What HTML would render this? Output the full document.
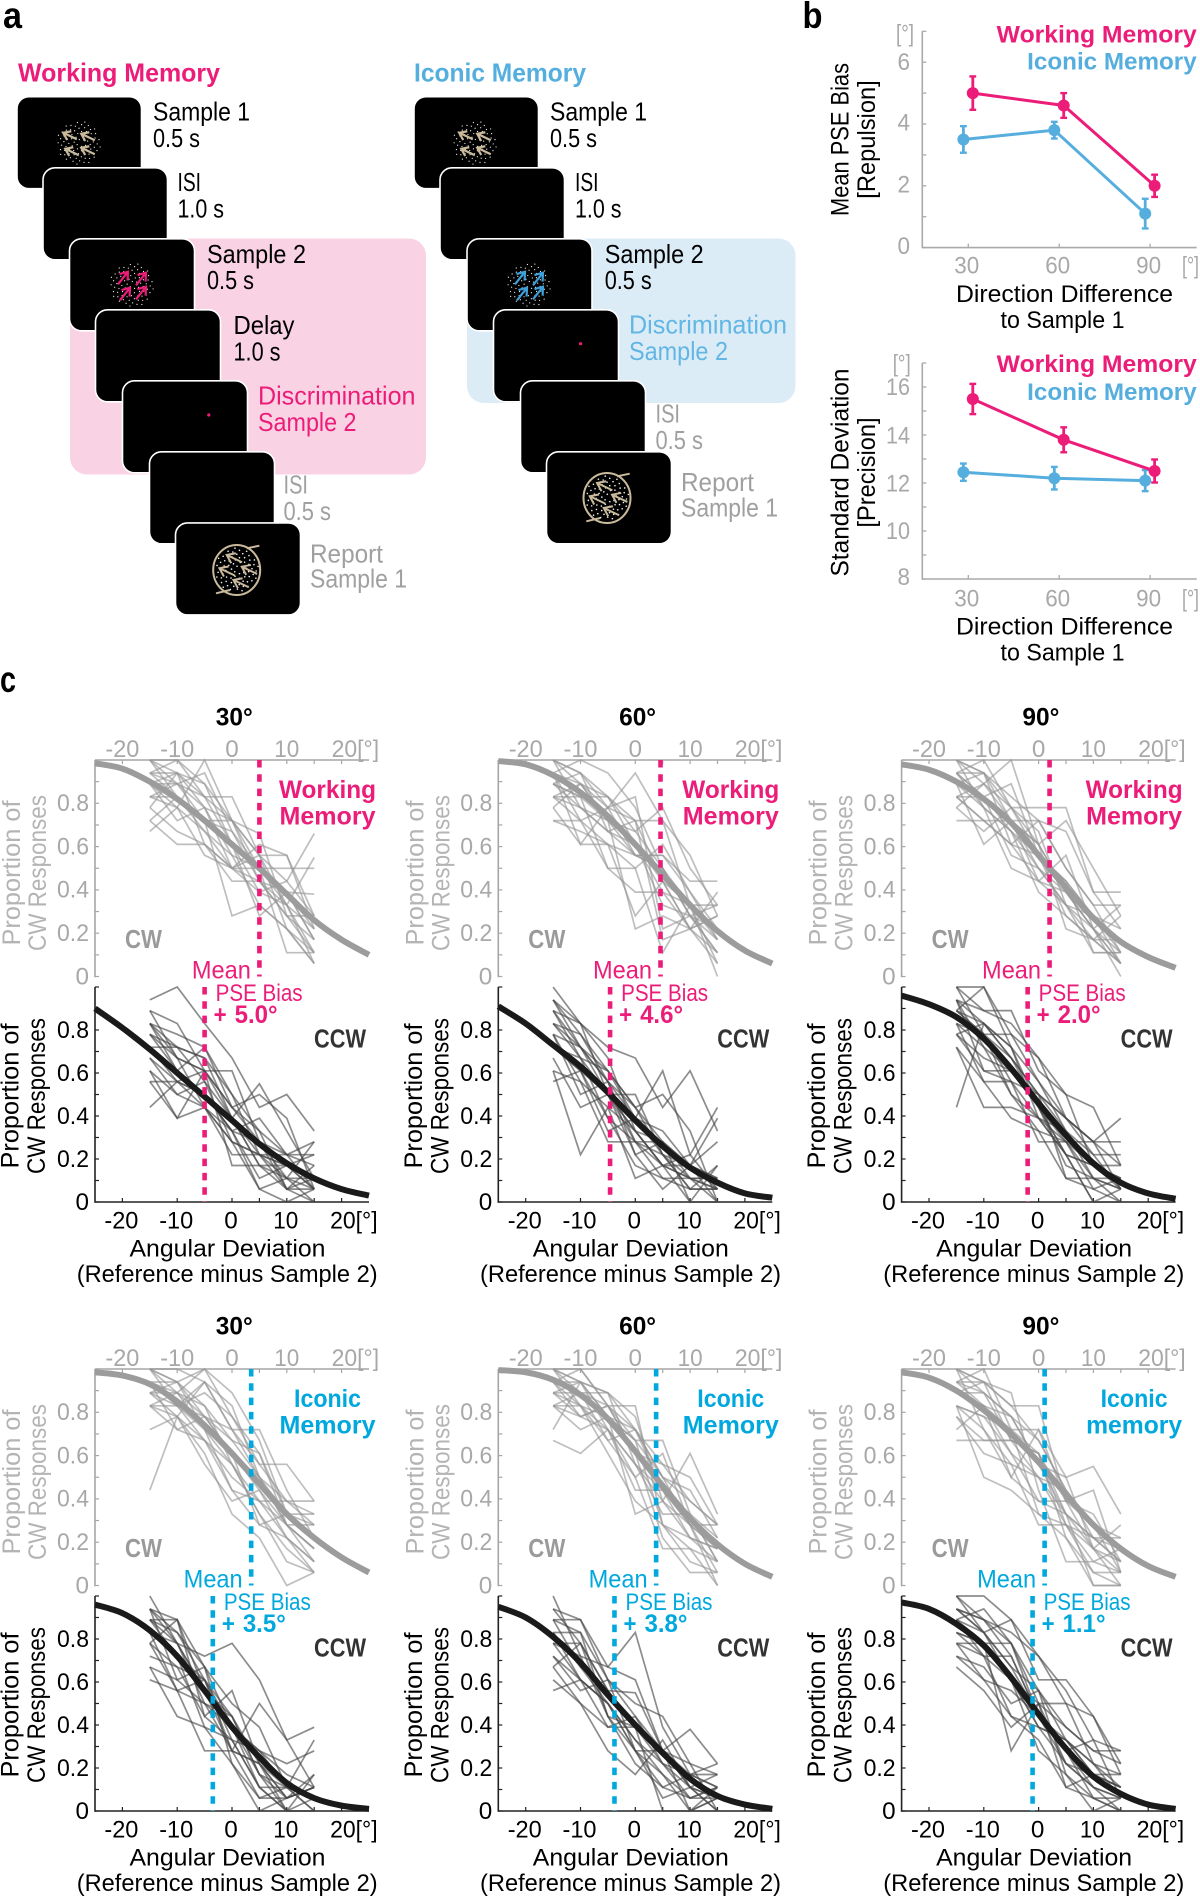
<!DOCTYPE html>
<html lang="en">
<head>
<meta charset="utf-8">
<title>Working and iconic memory direction repulsion figure</title>
<style>
html,body{margin:0;padding:0;background:#fff}
svg{display:block}
text{font-family:"Liberation Sans",sans-serif}
.s{font-size:26px;fill:#000}
.g{font-size:26px;fill:#a0a0a0}
</style>
</head>
<body>
<svg id="fig" xmlns="http://www.w3.org/2000/svg" width="1200" height="1897" viewBox="0 0 1200 1897">
<rect x="0" y="0" width="1200" height="1897" fill="#fff"/>
<g id="panel-a">
<text x="3" y="28" font-size="37" font-weight="bold" fill="#000" textLength="19" lengthAdjust="spacingAndGlyphs">a</text>
<rect x="70" y="238.5" width="356" height="236" rx="17" fill="#f9d3e4"/>
<text x="18" y="81.6" font-size="26" font-weight="bold" fill="#ec1c79" textLength="202" lengthAdjust="spacingAndGlyphs">Working Memory</text>
<g fill="#000" stroke="#fff" stroke-width="1.6">
<rect x="17" y="96.7" width="124.5" height="92" rx="12"/>
<rect x="43" y="167.8" width="124.5" height="92" rx="12"/>
<rect x="69.5" y="238.8" width="125" height="92" rx="12"/>
<rect x="95.5" y="309.8" width="125" height="92" rx="12"/>
<rect x="122.5" y="380.8" width="125" height="92" rx="12"/>
<rect x="149.5" y="451.8" width="125" height="92" rx="12"/>
<rect x="175.5" y="522.9" width="125" height="92" rx="12"/>
</g>
<text class="s" x="153" y="120.3" textLength="97" lengthAdjust="spacingAndGlyphs">Sample 1</text>
<text class="s" x="153" y="147" textLength="47" lengthAdjust="spacingAndGlyphs">0.5 s</text>
<text class="s" x="177.5" y="191" textLength="23.5" lengthAdjust="spacingAndGlyphs">ISI</text>
<text class="s" x="177.5" y="217.6" textLength="46.5" lengthAdjust="spacingAndGlyphs">1.0 s</text>
<text class="s" x="207" y="262.8" textLength="99" lengthAdjust="spacingAndGlyphs">Sample 2</text>
<text class="s" x="207" y="289" textLength="47" lengthAdjust="spacingAndGlyphs">0.5 s</text>
<text class="s" x="233.5" y="334" textLength="61" lengthAdjust="spacingAndGlyphs">Delay</text>
<text class="s" x="233.5" y="360.4" textLength="47" lengthAdjust="spacingAndGlyphs">1.0 s</text>
<text x="258" y="404.4" font-size="26" fill="#ec1c79" textLength="157.5" lengthAdjust="spacingAndGlyphs">Discrimination</text>
<text x="258" y="431" font-size="26" fill="#ec1c79" textLength="98.5" lengthAdjust="spacingAndGlyphs">Sample 2</text>
<text class="g" x="283.5" y="493.4" textLength="24.5" lengthAdjust="spacingAndGlyphs">ISI</text>
<text class="g" x="283.5" y="520" textLength="47.5" lengthAdjust="spacingAndGlyphs">0.5 s</text>
<text class="g" x="310" y="562.3" textLength="73" lengthAdjust="spacingAndGlyphs">Report</text>
<text class="g" x="310" y="587.6" textLength="97" lengthAdjust="spacingAndGlyphs">Sample 1</text>
<circle cx="208.8" cy="415" r="1.6" fill="#ec1c79"/>
<g transform="translate(-3 0)">
<rect x="470" y="238.5" width="328.5" height="164.5" rx="17" fill="#dcecf7"/>
<text x="417" y="81.6" font-size="26" font-weight="bold" fill="#54aede" textLength="172" lengthAdjust="spacingAndGlyphs">Iconic Memory</text>
<g fill="#000" stroke="#fff" stroke-width="1.6">
<rect x="417" y="96.7" width="124.5" height="92" rx="12"/>
<rect x="443" y="167.8" width="124.5" height="92" rx="12"/>
<rect x="470" y="238.8" width="125" height="92" rx="12"/>
<rect x="496.5" y="309.8" width="125" height="92" rx="12"/>
<rect x="523.5" y="380.8" width="125" height="92" rx="12"/>
<rect x="549.5" y="451.8" width="125" height="92" rx="12"/>
</g>
<text class="s" x="553" y="120.3" textLength="97" lengthAdjust="spacingAndGlyphs">Sample 1</text>
<text class="s" x="553" y="147" textLength="47" lengthAdjust="spacingAndGlyphs">0.5 s</text>
<text class="s" x="578" y="191" textLength="23.5" lengthAdjust="spacingAndGlyphs">ISI</text>
<text class="s" x="578" y="217.6" textLength="46.5" lengthAdjust="spacingAndGlyphs">1.0 s</text>
<text class="s" x="607.7" y="262.8" textLength="99" lengthAdjust="spacingAndGlyphs">Sample 2</text>
<text class="s" x="607.7" y="289" textLength="47" lengthAdjust="spacingAndGlyphs">0.5 s</text>
<text x="632" y="333.4" font-size="26" fill="#62b6e4" textLength="158" lengthAdjust="spacingAndGlyphs">Discrimination</text>
<text x="632" y="360" font-size="26" fill="#62b6e4" textLength="99" lengthAdjust="spacingAndGlyphs">Sample 2</text>
<text class="g" x="658.5" y="422.4" textLength="24.5" lengthAdjust="spacingAndGlyphs">ISI</text>
<text class="g" x="658.5" y="449" textLength="47.5" lengthAdjust="spacingAndGlyphs">0.5 s</text>
<text class="g" x="684" y="491" textLength="73" lengthAdjust="spacingAndGlyphs">Report</text>
<text class="g" x="684" y="516.6" textLength="97" lengthAdjust="spacingAndGlyphs">Sample 1</text>
<circle cx="583.6" cy="343.7" r="1.6" fill="#ec1c79"/>
</g>
</g>
<g id="stimuli"></g>
<g id="panel-b">
<text x="802.5" y="28" font-size="37" font-weight="bold" fill="#000" textLength="20" lengthAdjust="spacingAndGlyphs">b</text>
</g>
<g id="panel-c">
<text x="0" y="692" font-size="37" font-weight="bold" fill="#000" textLength="16" lengthAdjust="spacingAndGlyphs">c</text>
</g>
</svg>
<script>
/* ---------- panel b data ---------- */
const bConditions = [30, 60, 90];
const biasWM = [5.0, 4.6, 2.0];
const biasWMErr = [0.54, 0.40, 0.36];
const biasIM = [3.5, 3.8, 1.1];
const biasIMErr = [0.43, 0.27, 0.48];
const sdWM = [15.5, 13.8, 12.5];
const sdWMErr = [0.63, 0.52, 0.48];
const sdIM = [12.45, 12.2, 12.1];
const sdIMErr = [0.36, 0.47, 0.44];
const biasTicks = [0, 2, 4, 6];
const sdTicks = [8, 10, 12, 14, 16];

/* ---------- panel c data ---------- */
const angleTitles = ['30°', '60°', '90°'];
const pseBiasWM = [5.0, 4.6, 2.0];
const pseBiasIM = [3.5, 3.8, 1.1];
const deviationTicks = [-20, -10, 0, 10];
const proportionTicks = [0, 0.2, 0.4, 0.6, 0.8];
const subjectX = [-15, -10, -5, 0, 5, 10, 15];
const fitX = [-25, -20, -15, -10, -5, 0, 5, 10, 15, 20, 25];

const fitWM30cw = [.985,.96,.90,.82,.72,.61,.50,.38,.26,.17,.10];
const fitWM30ccw = [.90,.81,.71,.60,.49,.38,.27,.18,.11,.06,.03];
const fitWM60cw = [.995,.98,.93,.85,.74,.61,.47,.33,.21,.12,.06];
const fitWM60ccw = [.91,.83,.73,.63,.51,.38,.26,.16,.09,.04,.02];
const fitWM90cw = [.98,.955,.90,.82,.71,.56,.41,.27,.16,.09,.04];
const fitWM90ccw = [.96,.92,.86,.76,.62,.46,.31,.18,.09,.04,.015];
const fitIM30cw = [.985,.97,.93,.85,.74,.61,.47,.33,.22,.13,.06];
const fitIM30ccw = [.96,.92,.84,.72,.56,.39,.25,.13,.06,.025,.01];
const fitIM60cw = [.995,.985,.95,.88,.77,.62,.46,.31,.19,.10,.04];
const fitIM60ccw = [.95,.90,.81,.69,.54,.40,.27,.15,.07,.03,.01];
const fitIM90cw = [.985,.96,.90,.81,.70,.57,.42,.28,.17,.09,.04];
const fitIM90ccw = [.97,.94,.87,.77,.62,.45,.29,.16,.08,.03,.01];

const subjWM30cw = [[100,94,78,50,44,33,22],[94,100,89,72,50,39,17],[89,78,100,72,56,56,28],[83,89,83,83,56,33,6],[78,67,61,50,50,50,50],[72,83,72,28,33,22,11],[94,83,67,50,61,56,22],[100,89,94,67,50,11,11],[89,89,78,72,44,28,28],[67,78,56,50,39,44,66],[83,83,72,61,28,39,17],[94,94,83,61,50,33,55],[100,83,72,72,66,28,11],[78,94,61,44,44,39,38],[89,72,78,56,33,22,6],[72,61,61,50,56,44,28],[94,89,72,67,44,28,17],[83,78,67,56,50,39,22],[89,94,89,61,39,33,11],[100,100,83,72,56,22,6]];
const subjWM30ccw = [[94,100,83,67,44,50,33],[89,67,61,39,55,33,11],[83,78,72,50,33,22,28],[78,72,67,39,22,22,6],[72,56,44,33,11,17,6],[61,39,44,28,6,11,0],[67,56,61,61,28,6,17],[44,56,50,33,28,22,17],[89,83,61,17,17,17,11],[56,56,50,33,39,22,22],[83,61,72,44,50,39,6],[72,72,56,28,22,6,0],[78,61,50,33,6,0,6],[61,50,56,39,17,11,28],[83,67,44,22,22,17,6],[56,39,61,44,33,6,11],[78,67,61,44,28,11,11],[72,61,50,39,17,6,6],[83,72,67,50,22,17,22],[67,50,44,28,22,11,6]];
const subjWM60cw = [[100,89,78,94,72,56,28],[94,100,94,78,50,28,11],[89,83,83,67,78,50,33],[83,78,72,56,56,44,44],[78,89,72,22,28,22,6],[72,67,61,50,61,39,22],[100,94,67,72,72,33,0],[94,61,78,83,22,28,17],[89,83,50,50,11,33,33],[83,83,72,61,44,22,28],[100,78,67,56,50,33,6],[72,72,50,39,39,22,39],[89,94,78,72,17,22,11],[94,72,61,56,56,39,17],[83,89,83,61,33,28,33],[78,61,61,28,44,33,22],[94,89,72,67,50,28,22],[89,78,67,61,39,33,17],[100,94,83,72,44,22,28],[83,72,78,56,50,28,11]];
const subjWM60ccw = [[100,83,72,67,44,61,33],[94,78,56,39,61,22,44],[89,83,50,22,28,11,6],[83,67,61,44,50,33,0],[78,50,56,22,6,17,28],[61,22,44,33,17,11,0],[72,61,39,28,22,17,39],[67,44,50,50,22,6,6],[89,72,61,44,28,0,17],[94,83,67,33,17,11,11],[61,56,44,11,17,22,6],[72,61,33,39,33,17,0],[83,72,56,28,11,11,6],[78,56,28,28,28,17,11],[56,61,50,33,17,0,0],[89,67,39,17,11,6,17],[83,78,61,39,22,11,11],[72,67,50,33,28,17,6],[78,72,56,44,22,6,6],[94,72,50,28,17,17,11]];
const subjWM90cw = [[100,89,100,61,72,50,28],[94,100,78,78,78,39,39],[89,94,83,72,50,33,33],[83,72,61,72,67,39,22],[72,72,72,72,50,33,11],[94,83,89,56,28,17,6],[100,78,67,50,33,28,6],[89,61,72,44,39,22,0],[78,89,78,56,44,11,11],[94,94,72,61,22,17,28],[83,83,56,50,39,28,17],[100,94,61,44,33,11,11],[89,78,50,44,56,22,6],[78,67,78,67,33,22,33],[94,83,67,39,28,17,6],[83,72,61,56,44,28,22],[100,94,78,61,39,22,11],[89,83,72,50,33,17,17],[94,78,67,56,44,28,11],[83,89,72,61,39,22,6]];
const subjWM90ccw = [[100,100,78,56,39,28,17],[100,89,83,67,50,17,11],[94,89,89,61,50,44,17],[89,78,78,67,39,28,28],[89,83,67,50,39,28,39],[44,83,67,44,22,0,0],[72,44,44,39,33,11,6],[78,67,61,44,17,11,0],[94,61,56,50,39,22,22],[83,56,56,28,28,17,6],[72,56,39,33,11,6,11],[94,83,72,44,22,0,6],[83,72,50,39,28,6,0],[89,100,72,39,22,17,17],[78,61,61,50,11,11,11],[100,78,50,33,28,28,6],[89,78,67,50,33,17,11],[94,72,61,44,28,11,6],[83,78,56,39,22,17,11],[78,83,72,56,33,22,6]];
const subjIM30cw = [[44,78,67,44,39,28,28],[72,78,94,83,50,28,17],[83,89,100,78,61,33,33],[100,100,94,72,56,56,39],[89,83,78,61,50,28,11],[94,94,100,89,67,33,28],[100,89,72,61,28,22,6],[89,78,61,33,22,0,6],[94,83,67,50,39,39,39],[83,72,78,72,72,44,22],[100,94,83,56,33,17,6],[89,94,72,44,28,33,22],[94,89,78,67,61,28,17],[83,78,56,39,44,22,11],[100,83,94,72,50,39,28],[94,72,67,56,33,11,6],[89,89,83,67,50,33,22],[100,94,78,61,44,28,17],[94,83,72,56,39,22,11],[83,83,89,78,56,39,33]];
const subjIM30ccw = [[100,78,72,78,61,33,11],[94,89,56,44,17,0,0],[89,89,67,39,28,22,28],[83,72,61,28,50,33,39],[78,56,50,28,22,6,11],[67,44,39,33,11,0,17],[61,56,28,28,6,11,6],[94,83,67,50,39,11,33],[89,72,39,22,0,6,11],[67,61,50,44,17,11,0],[83,56,61,39,28,17,11],[89,78,56,28,22,0,0],[78,89,44,33,11,11,6],[94,61,67,22,6,6,17],[72,67,44,56,22,6,11],[89,83,61,44,22,11,6],[83,78,56,39,17,6,11],[78,67,61,33,28,11,0],[94,78,50,39,11,0,6]];
const subjIM60cw = [[72,94,78,72,44,28,28],[67,61,72,56,44,28,6],[94,100,83,83,28,22,17],[89,83,78,33,39,61,33],[100,89,78,67,67,33,11],[83,72,78,67,50,44,22],[94,94,89,78,39,28,0],[100,100,83,61,22,6,6],[89,78,83,72,56,50,28],[83,89,67,50,17,17,11],[100,94,72,44,44,22,17],[94,83,61,39,28,11,6],[89,89,89,56,33,33,11],[100,83,67,72,50,39,28],[83,78,72,50,61,28,17],[94,89,83,67,28,17,0],[89,94,78,61,44,33,22],[100,94,89,72,50,28,17],[83,83,72,56,39,22,11],[94,78,83,61,56,39,28]];
const subjIM60ccw = [[100,72,67,83,39,17,22],[94,89,67,61,28,0,6],[89,89,61,50,44,22,0],[83,61,50,28,11,17,11],[78,78,56,55,28,38,22],[67,78,44,39,0,0,6],[61,50,28,17,33,11,0],[56,61,39,44,22,17,17],[89,67,50,33,22,6,11],[94,78,56,39,28,11,6],[72,56,61,28,17,0,11],[83,83,44,22,11,6,6],[67,50,39,39,28,22,17],[78,61,50,28,6,11,0],[89,83,61,44,28,17,11],[83,67,56,39,22,11,6],[72,61,50,33,17,6,11],[78,72,44,28,28,11,17]];
const subjIM90cw = [[100,94,83,83,39,33,11],[94,100,72,72,50,55,33],[89,83,50,72,39,44,6],[83,50,44,33,22,0,0],[78,67,67,61,28,6,6],[72,83,61,39,33,22,22],[67,67,67,61,22,6,0],[100,89,78,56,50,17,28],[94,94,89,44,11,11,17],[83,78,61,50,44,28,6],[89,83,72,33,28,22,11],[100,72,56,50,33,17,0],[78,61,56,28,28,11,6],[94,89,78,67,44,22,17],[83,72,50,39,39,28,22],[89,94,67,61,33,0,0],[100,94,83,67,44,28,17],[94,83,78,56,33,22,11],[89,89,67,50,28,17,6],[83,78,72,61,39,17,11]];
const subjIM90ccw = [[100,89,83,72,50,44,22],[100,100,89,61,61,44,17],[94,83,89,72,56,33,28],[89,94,78,50,39,28,28],[83,78,28,50,50,22,11],[78,78,78,44,28,33,6],[72,67,50,56,17,6,0],[67,56,39,50,11,17,17],[89,78,61,39,22,11,6],[94,83,61,28,17,0,6],[83,72,44,39,33,17,11],[78,61,44,33,11,6,0],[94,89,72,44,28,6,6],[100,83,67,56,39,28,22],[72,61,56,44,22,11,0],[89,72,61,39,33,22,17],[94,89,78,56,33,17,11],[89,83,67,44,28,11,6],[83,78,61,50,22,17,11],[78,72,72,44,33,22,6]];

const PINK = '#ec1c79', BLUE = '#55aedd', CYAN = '#00a8de', TICK = '#a8a8a8', NS = 'http://www.w3.org/2000/svg';

function make(parent, tag, attrs, name) {
  const node = document.createElementNS(NS, tag);
  for (const k in attrs) node.setAttribute(k, attrs[k]);
  
  
  parent.appendChild(node);
  return node;
}
function label(parent, x, y, str, o, name) {
  const a = {x: x, y: y, 'font-size': o.size || 24, fill: o.fill || '#000'};
  if (o.anchor) a['text-anchor'] = o.anchor;
  if (o.bold) a['font-weight'] = 'bold';
  if (o.len) { a.textLength = o.len; a.lengthAdjust = 'spacingAndGlyphs'; }
  if (o.rot) a.transform = 'rotate(-90 ' + x + ' ' + y + ')';
  const t = make(parent, 'text', a, name);
  t.textContent = str;
  return t;
}
function seg(parent, x1, y1, x2, y2, stroke, w, name) {
  return make(parent, 'line', {x1: x1, y1: y1, x2: x2, y2: y2, stroke: stroke, 'stroke-width': w}, name);
}
function smoothPath(pts) {
  let d = 'M' + pts[0][0].toFixed(2) + ' ' + pts[0][1].toFixed(2);
  for (let i = 0; i < pts.length - 1; i++) {
    const p0 = pts[Math.max(0, i - 1)], p1 = pts[i], p2 = pts[i + 1], p3 = pts[Math.min(pts.length - 1, i + 2)];
    d += 'C' + (p1[0] + (p2[0] - p0[0]) / 6).toFixed(2) + ' ' + (p1[1] + (p2[1] - p0[1]) / 6).toFixed(2) + ' '
       + (p2[0] - (p3[0] - p1[0]) / 6).toFixed(2) + ' ' + (p2[1] - (p3[1] - p1[1]) / 6).toFixed(2) + ' '
       + p2[0].toFixed(2) + ' ' + p2[1].toFixed(2);
  }
  return d;
}

/* ---------- stimulus icons ---------- */
function arrow(parent, cx, cy, ang, len, color, w) {
  const c = Math.cos(ang), s = Math.sin(ang), hx = cx + c * len / 2, hy = cy + s * len / 2;
  const h = len * 0.55, a1 = ang + Math.PI * 0.8, a2 = ang - Math.PI * 0.8;
  make(parent, 'path', {
    d: 'M' + (cx - c * len / 2) + ' ' + (cy - s * len / 2) + 'L' + hx + ' ' + hy +
       'M' + (hx + Math.cos(a1) * h) + ' ' + (hy + Math.sin(a1) * h) + 'L' + hx + ' ' + hy + 'L' + (hx + Math.cos(a2) * h) + ' ' + (hy + Math.sin(a2) * h),
    fill: 'none', stroke: color, 'stroke-width': w
  }, 'stimulus-arrow');
}
function dotField(parent, cx, cy, R, n, r) {
  for (let i = 1; i <= n; i++) {
    const rad = R * Math.sqrt(i / n), th = i * 2.39996;
    make(parent, 'circle', {cx: cx + rad * Math.cos(th), cy: cy + rad * Math.sin(th), r: r, fill: '#f2f2f2'}, 'stimulus-dot');
  }
}
function dotStim(cx, cy, color, ang, len) {
  const g = document.getElementById('stimuli');
  dotField(g, cx, cy, 22, 80, 0.6);
  [[-9, -7], [9, -6], [-7, 9], [9, 8]].forEach(function (o) { arrow(g, cx + o[0], cy + o[1], ang, len, color, 2.2); });
}
function reportStim(cx, cy) {
  const g = document.getElementById('stimuli'), tan = '#c9ba9c';
  dotField(g, cx, cy, 22, 70, 0.8);
  make(g, 'ellipse', {cx: cx, cy: cy, rx: 23.5, ry: 25, fill: 'none', stroke: tan, 'stroke-width': 2}, 'report-ring');
  seg(g, cx + 22.7, cy - 24.3, cx + 10, cy - 21.7, tan, 2, 'report-handle');
  seg(g, cx - 20.7, cy + 23.3, cx - 6.7, cy + 20, tan, 2, 'report-handle');
  [[-2.3, -11.4], [-9.6, 1.9], [12.7, 0.3], [4.4, 13.6]].forEach(function (o) { arrow(g, cx + o[0], cy + o[1], -2.7, 17, tan, 2); });
}
dotStim(79, 143, '#c9ba9c', -2.7, 15);
dotStim(475, 143, '#c9ba9c', -2.7, 15);
dotStim(132, 285, PINK, -0.9, 16);
dotStim(529, 285, '#3f9fd8', -0.9, 16);
reportStim(236.7, 570);
reportStim(607, 498);

/* ---------- panel b ---------- */
function bChart(o) {
  const g = make(document.getElementById('panel-b'), 'g', {}, o.name);
  const xS = function (d) { return 968.3 + (d - 30) * 3.03; };
  const yS = function (v) { return o.y0 - (v - o.vMin) * o.ppu; };
  const xL = 922.3, xR = 1196.7, axis = '#aaa';
  seg(g, xL, yS(o.vMax), xL, o.y0 + 0.7, axis, 1.6, 'y-axis');
  seg(g, xL, o.y0, xR, o.y0, axis, 1.6, 'x-axis');
  for (let v = o.vMin; v <= o.vMax; v++) seg(g, xL, yS(v), xL + 4, yS(v), axis, 1.3, 'y-tick');
  bConditions.forEach(function (d) {
    seg(g, xS(d), o.y0, xS(d), o.y0 - 4, axis, 1.3, 'x-tick');
    label(g, xS(d) - 1.5, o.xLabelY, String(d), {size: 24, fill: TICK, anchor: 'middle', len: 25}, 'x-tick-label');
  });
  o.ticks.forEach(function (v, i) {
    label(g, 910, o.tickY[i], String(v), {size: 24, fill: TICK, anchor: 'end', len: v > 9 ? 24 : 12.5}, 'y-tick-label');
  });
  label(g, o.unitX, o.unitY, '[°]', {size: 24, fill: TICK, len: 18}, 'y-unit-label');
  label(g, 1182, o.xLabelY, '[°]', {size: 24, fill: TICK, len: 17}, 'x-unit-label');
  label(g, 1064.5, o.xLabelY + 28.4, 'Direction Difference', {size: 24, anchor: 'middle', len: 217}, 'x-axis-title');
  label(g, 1062.5, o.xLabelY + 54.4, 'to Sample 1', {size: 24, anchor: 'middle', len: 124}, 'x-axis-subtitle');
  label(g, 848.3, o.tCy, o.t1, {size: 25, anchor: 'middle', rot: 1, len: o.t1L}, 'y-axis-title');
  label(g, 875, o.tCy, o.t2, {size: 25, anchor: 'middle', rot: 1, len: o.t2L}, 'y-axis-subtitle');
  label(g, 1196.7, o.legY[0], 'Working Memory', {size: 24, bold: 1, fill: PINK, anchor: 'end', len: 200}, 'legend-working-memory');
  label(g, 1196.7, o.legY[1], 'Iconic Memory', {size: 24, bold: 1, fill: BLUE, anchor: 'end', len: 169.5}, 'legend-iconic-memory');
  function series(vals, errs, dx, color, nm) {
    const pts = vals.map(function (v, i) { return (xS(bConditions[i]) + dx) + ',' + yS(v); }).join(' ');
    make(g, 'polyline', {points: pts, fill: 'none', stroke: color, 'stroke-width': 3}, nm + '-line');
    vals.forEach(function (v, i) {
      const x = xS(bConditions[i]) + dx, hi = yS(v + errs[i]), lo = yS(v - errs[i]);
      seg(g, x, hi, x, lo, color, 2.8, nm + '-error-bar');
      seg(g, x - 3.4, hi, x + 3.4, hi, color, 2.4, nm + '-error-cap');
      seg(g, x - 3.4, lo, x + 3.4, lo, color, 2.4, nm + '-error-cap');
      make(g, 'circle', {cx: x, cy: yS(v), r: 6, fill: color}, nm + '-point');
    });
  }
  series(o.im, o.imErr, -4.9, BLUE, 'iconic-memory');
  series(o.wm, o.wmErr, 4.5, PINK, 'working-memory');
}
bChart({name: 'pse-bias-chart', y0: 247.6, vMin: 0, vMax: 7, ppu: 30.9, ticks: biasTicks, tickY: [254.2, 192.5, 130.5, 69.9],
  unitX: 896, unitY: 41.5, xLabelY: 273.5, tCy: 139.5, t1: 'Mean PSE Bias', t1L: 153, t2: '[Repulsion]', t2L: 118.5,
  legY: [42.5, 69.4], wm: biasWM, wmErr: biasWMErr, im: biasIM, imErr: biasIMErr});
bChart({name: 'standard-deviation-chart', y0: 579, vMin: 8, vMax: 17, ppu: 24, ticks: sdTicks, tickY: [585.1, 539.1, 491.5, 443.7, 395.1],
  unitX: 892.7, unitY: 371.3, xLabelY: 606.3, tCy: 472.5, t1: 'Standard Deviation', t1L: 208, t2: '[Precision]', t2L: 110,
  legY: [372, 399.8], wm: sdWM, wmErr: sdWMErr, im: sdIM, imErr: sdIMErr});

/* ---------- panel c ---------- */
function psyPanel(parent, o) {
  const g = make(parent, 'g', {}, o.name);
  const xS = function (d) { return o.dx + 95 + (d + 25) * 5.48; };
  const yS = function (p) { return o.y0 - p * (o.y0 - o.y1); };
  const ac = o.top ? '#a6a6a6' : '#222', tc = o.top ? TICK : '#000';
  const lineY = o.top ? o.y1 : o.y0, dir = o.top ? 4 : -4;
  seg(g, xS(-25), o.y1, xS(-25), o.y0 + 0.7, ac, 1.6, 'y-axis');
  seg(g, xS(-25), lineY, xS(25), lineY, ac, 1.6, 'x-axis');
  for (let i = 0; i <= 10; i++) seg(g, xS(-25), yS(i / 10), xS(-25) + 4, yS(i / 10), ac, 1.2, 'y-tick');
  [-20, -10, 0, 5, 10, 15, 20].forEach(function (d) { seg(g, xS(d), lineY, xS(d), lineY + dir, ac, 1.2, 'x-tick'); });
  const tickY = o.top ? o.y1 - 3 : o.y0 + 26.4;
  deviationTicks.forEach(function (d) {
    label(g, xS(d) - (o.top ? 0 : 1), tickY, String(d), {size: 24, fill: tc, anchor: 'middle', len: d === 0 ? 13.5 : (d < 0 ? 34 : 25)}, 'x-tick-label');
  });
  label(g, xS(20) - (o.top ? 10 : 11.5), tickY, '20[°]', {size: 24, fill: tc, len: 47.5}, 'x-tick-label-last');
  proportionTicks.forEach(function (p) {
    label(g, o.dx + 89, yS(p) + 7.8, String(p), {size: 24, fill: tc, anchor: 'end', len: p === 0 ? 13.5 : 32}, 'y-tick-label');
  });
  const cyA = o.top ? o.y0 - 103.5 : o.y0 - 106;
  label(g, o.dx + (o.top ? 20 : 18.5), cyA, 'Proportion of', {size: 25, fill: o.top ? '#b4b4b4' : '#000', anchor: 'middle', rot: 1, len: 145}, 'y-axis-title');
  label(g, o.dx + (o.top ? 46 : 45), cyA, 'CW Responses', {size: 25, fill: o.top ? '#b4b4b4' : '#000', anchor: 'middle', rot: 1, len: 156}, 'y-axis-subtitle');
  o.subjects.forEach(function (row) {
    const pts = row.map(function (v, i) { return xS(subjectX[i]).toFixed(1) + ',' + yS(v / 100).toFixed(1); }).join(' ');
    make(g, 'polyline', {points: pts, fill: 'none', stroke: o.top ? 'rgba(150,150,150,.62)' : 'rgba(70,70,70,.62)', 'stroke-width': 1.7}, 'subject-curve');
  });
  const fitPts = o.fit.map(function (v, i) { return [xS(fitX[i]), yS(v)]; });
  make(g, 'path', {d: smoothPath(fitPts), fill: 'none', stroke: o.top ? '#9c9c9c' : '#1a1a1a', 'stroke-width': 6}, 'mean-fit-curve');
  const dashX = xS(o.top ? o.bias : -o.bias);
  make(g, 'line', {x1: dashX, y1: o.y1, x2: dashX, y2: o.y0, stroke: o.color, 'stroke-width': 4.6, 'stroke-dasharray': '7.5 6.8'}, 'pse-bias-line');
  return dashX;
}
function psyGroup(rowName, rowOffset, color, biases, lists, words) {
  const root = document.getElementById('panel-c');
  [0, 1, 2].forEach(function (c) {
    const dx = c * 403.3, g = make(root, 'g', {}, rowName + '-' + angleTitles[c].replace('°', '') + '-panels');
    label(g, dx + 234.3, 725.5 + rowOffset, angleTitles[c], {size: 25, bold: 1, anchor: 'middle', len: 37}, 'condition-title');
    const xTop = psyPanel(g, {name: 'cw-panel', dx: dx, top: true, y1: 760 + rowOffset, y0: 976.5 + rowOffset, bias: biases[c], color: color, subjects: lists[c][0], fit: lists[c][1]});
    const xBot = psyPanel(g, {name: 'ccw-panel', dx: dx, top: false, y1: 987 + rowOffset, y0: 1202 + rowOffset, bias: biases[c], color: color, subjects: lists[c][2], fit: lists[c][3]});
    label(g, dx + 125, 948 + rowOffset, 'CW', {size: 26, bold: 1, fill: '#9a9a9a', len: 37}, 'cw-label');
    label(g, dx + 314, 1047.7 + rowOffset, 'CCW', {size: 26, bold: 1, fill: '#333', len: 52}, 'ccw-label');
    label(g, dx + 327.5, 797.8 + rowOffset, words[c][0], {size: 25, bold: 1, fill: color, anchor: 'middle', len: words[c][2]}, 'condition-label-first-line');
    label(g, dx + 327.5, 824.3 + rowOffset, words[c][1], {size: 25, bold: 1, fill: color, anchor: 'middle', len: 96}, 'condition-label-second-line');
    label(g, xTop - 8.5, 978.5 + rowOffset, 'Mean', {size: 25, fill: color, anchor: 'end', len: 59}, 'mean-label');
    const left = xBot + 11;
    label(g, left, 1001 + rowOffset, 'PSE Bias', {size: 24, fill: color, len: 87}, 'pse-bias-label');
    label(g, left - 2, 1022.8 + rowOffset, '+', {size: 25, bold: 1, fill: color, len: 13}, 'pse-bias-plus');
    label(g, left + 19, 1022.8 + rowOffset, biases[c].toFixed(1) + '°', {size: 25, bold: 1, fill: color, len: 43}, 'pse-bias-value');
    label(g, dx + 227.5, 1256.5 + rowOffset, 'Angular Deviation', {size: 24, anchor: 'middle', len: 196}, 'x-axis-title');
    label(g, dx + 227.2, 1281.8 + rowOffset, '(Reference minus Sample 2)', {size: 24, anchor: 'middle', len: 301}, 'x-axis-subtitle');
  });
}
psyGroup('working-memory', 0, PINK, pseBiasWM, [
  [subjWM30cw, fitWM30cw, subjWM30ccw, fitWM30ccw],
  [subjWM60cw, fitWM60cw, subjWM60ccw, fitWM60ccw],
  [subjWM90cw, fitWM90cw, subjWM90ccw, fitWM90ccw]
], [['Working', 'Memory', 97], ['Working', 'Memory', 97], ['Working', 'Memory', 97]]);
psyGroup('iconic-memory', 609, CYAN, pseBiasIM, [
  [subjIM30cw, fitIM30cw, subjIM30ccw, fitIM30ccw],
  [subjIM60cw, fitIM60cw, subjIM60ccw, fitIM60ccw],
  [subjIM90cw, fitIM90cw, subjIM90ccw, fitIM90ccw]
], [['Iconic', 'Memory', 67], ['Iconic', 'Memory', 67], ['Iconic', 'memory', 67]]);
</script>
</body>
</html>
